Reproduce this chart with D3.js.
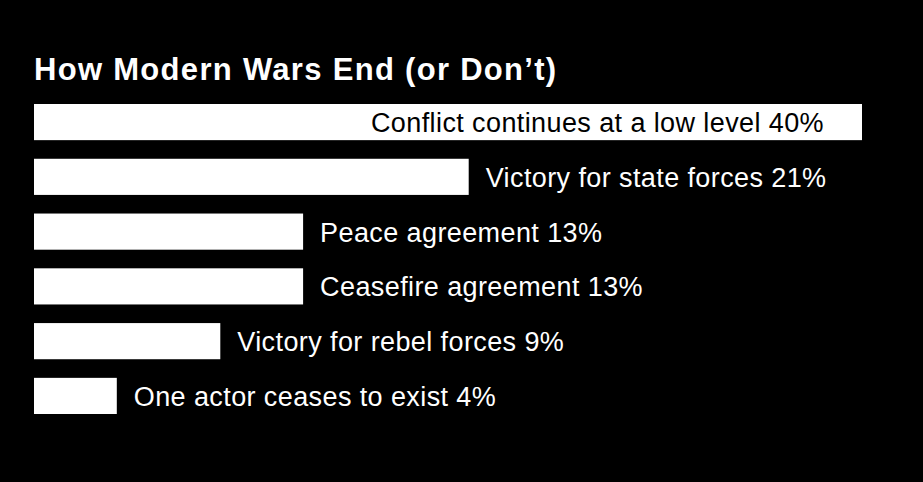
<!DOCTYPE html>
<html><head><meta charset="utf-8">
<script src="https://cdn.jsdelivr.net/npm/d3@7"></script>
<style>body{margin:0;background:#000}</style></head>
<body><script>
const categories=["Conflict continues at a low level","Victory for state forces","Peace agreement","Ceasefire agreement","Victory for rebel forces","One actor ceases to exist"];
const values=[40,21,13,13,9,4];
const W=923,H=482;
const svg=d3.select("body").append("svg").attr("width",W).attr("height",H).style("background","#000");
svg.append("text").attr("x",34).attr("y",80).attr("fill","#fff")
 .attr("font-family","Liberation Sans, Arial, sans-serif").attr("font-weight","bold")
 .attr("font-size",31).attr("letter-spacing",1.3).text("How Modern Wars End (or Don’t)");
const x=d3.scaleLinear().domain([0,40]).range([34,862]);
const y=d3.scaleBand().domain(categories).range([104,414]).paddingInner(0.34).paddingOuter(0);
const g=svg.append("g");
g.selectAll("rect").data(values).join("rect")
 .attr("x",x(0)).attr("y",(d,i)=>y(categories[i])).attr("width",d=>x(d)-x(0))
 .attr("height",y.bandwidth()).attr("fill","#fff");
g.selectAll("text").data(values).join("text")
 .attr("x",(d,i)=>i===0?x(d)-38:x(d)+17)
 .attr("y",(d,i)=>y(categories[i])+y.bandwidth()/2+10)
 .attr("text-anchor",(d,i)=>i===0?"end":"start")
 .attr("fill",(d,i)=>i===0?"#000":"#fff")
 .attr("font-family","Liberation Sans, Arial, sans-serif").attr("font-size",27)
 .attr("letter-spacing",0.4)
 .text((d,i)=>categories[i]+" "+d+"%");
</script></body></html>
